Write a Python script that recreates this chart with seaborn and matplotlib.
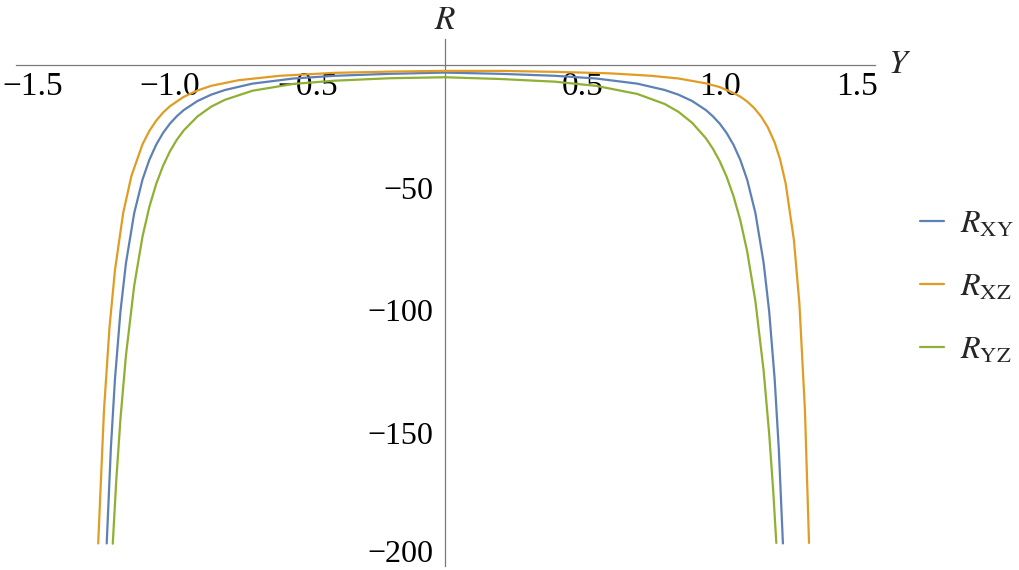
import matplotlib
matplotlib.use("Agg")
import matplotlib.pyplot as plt
import matplotlib.transforms as mtransforms
import pandas as pd
import seaborn as sns
from matplotlib.ticker import FixedLocator, MultipleLocator

# ------------------------------------------------------------
# Data
# ------------------------------------------------------------
y_xy = [-1.230, -1.215, -1.200, -1.180, -1.160, -1.130, -1.100, -1.075, -1.050, -1.025,
        -1.000, -0.975, -0.950, -0.900, -0.850, -0.800, -0.700, -0.550, -0.400, -0.200,
        0.000, 0.200, 0.400, 0.550, 0.700, 0.800, 0.850, 0.900, 0.950, 0.975,
        1.000, 1.025, 1.050, 1.075, 1.100, 1.130, 1.160, 1.180, 1.200, 1.215, 1.230]
r_xy = [-195.1, -156.5, -128.1, -100.5, -80.8, -60.4, -46.8, -38.7, -32.5, -27.7,
        -23.9, -20.9, -18.4, -14.7, -12.1, -10.2, -7.6, -5.5, -4.4, -3.6,
        -3.1, -3.6, -4.4, -5.5, -7.6, -10.2, -12.1, -14.7, -18.4, -20.9,
        -23.9, -27.7, -32.5, -38.7, -46.8, -60.4, -80.8, -100.5, -128.1, -156.5, -195.1]

y_xz = [-1.261, -1.240, -1.220, -1.200, -1.170, -1.140, -1.100, -1.075, -1.050, -1.025,
        -1.000, -0.950, -0.900, -0.850, -0.750, -0.600, -0.400, -0.200, 0.000, 0.200,
        0.400, 0.600, 0.750, 0.850, 0.950, 1.000, 1.050, 1.075, 1.100, 1.125,
        1.150, 1.175, 1.200, 1.220, 1.240, 1.270, 1.290, 1.310, 1.325]
r_xz = [-195.1, -141.0, -107.2, -83.7, -60.3, -45.2, -32.4, -26.9, -22.7, -19.4,
        -16.8, -13.0, -10.4, -8.5, -6.2, -4.4, -3.2, -2.7, -2.4, -2.4,
        -2.8, -3.4, -4.4, -5.5, -7.5, -9.0, -11.4, -12.9, -14.9, -17.5,
        -20.9, -25.4, -31.6, -38.6, -48.3, -71.4, -97.3, -140.5, -194.9]

y_yz = [-1.208, -1.195, -1.180, -1.160, -1.130, -1.100, -1.075, -1.050, -1.025, -1.000,
        -0.975, -0.950, -0.900, -0.850, -0.800, -0.700, -0.550, -0.400, -0.200, 0.000,
        0.200, 0.400, 0.550, 0.700, 0.800, 0.850, 0.900, 0.950, 0.975, 1.000,
        1.025, 1.050, 1.075, 1.100, 1.130, 1.160, 1.180, 1.195, 1.206]
r_yz = [-195.2, -169.0, -144.3, -118.4, -90.0, -70.1, -57.9, -48.5, -41.1, -35.2,
        -30.5, -26.7, -21.0, -17.0, -14.2, -10.5, -7.7, -6.4, -5.4, -5.0,
        -5.7, -6.8, -8.5, -11.8, -15.9, -19.1, -23.6, -29.9, -34.1, -39.2,
        -45.5, -53.4, -63.3, -76.0, -96.4, -124.8, -150.4, -174.2, -194.9]

series_names = [r"$R_{\mathrm{XY}}$", r"$R_{\mathrm{XZ}}$", r"$R_{\mathrm{YZ}}$"]
colors = ["#5E81B5", "#E19C24", "#8FB032"]

x_major = [-1.5, -1.0, -0.5, 0.5, 1.0, 1.5]
y_major = [-200, -150, -100, -50]

df = pd.concat([
    pd.DataFrame({"Y": y_xy, "R": r_xy, "series": series_names[0]}),
    pd.DataFrame({"Y": y_xz, "R": r_xz, "series": series_names[1]}),
    pd.DataFrame({"Y": y_yz, "R": r_yz, "series": series_names[2]}),
], ignore_index=True)

# ------------------------------------------------------------
# Style
# ------------------------------------------------------------
sns.set_style("white")
plt.rcParams["font.family"] = ["Liberation Serif", "DejaVu Serif"]
plt.rcParams["mathtext.fontset"] = "stix"

AXIS_GRAY = "#7a7a7a"

fig = plt.figure(figsize=(10.2, 5.7), dpi=100)
ax = fig.add_axes([16 / 1020, 1 - 566 / 570, (875 - 16) / 1020, (566 - 39) / 570])

sns.lineplot(data=df, x="Y", y="R", hue="series", hue_order=series_names,
             palette=dict(zip(series_names, colors)), estimator=None, sort=True,
             lw=1.6, ax=ax, legend=True)

ax.set_xlim(-1.56, 1.565)
ax.set_ylim(-204.3, 10.6)

# axes through the origin
for side in ["top", "right"]:
    ax.spines[side].set_visible(False)
ax.spines["left"].set_position(("data", 0))
ax.spines["bottom"].set_position(("data", 0))
for side in ["left", "bottom"]:
    ax.spines[side].set_color(AXIS_GRAY)
    ax.spines[side].set_linewidth(0.9)
    ax.spines[side].set_zorder(0)

ax.xaxis.set_major_locator(FixedLocator(x_major))
ax.xaxis.set_minor_locator(MultipleLocator(0.1))
ax.yaxis.set_major_locator(FixedLocator(y_major))
ax.yaxis.set_minor_locator(MultipleLocator(10))
ax.set_xticklabels([f"{v:.1f}".replace("-", "\u2212") for v in x_major])
ax.set_yticklabels([str(v).replace("-", "\u2212") for v in y_major])

ax.tick_params(axis="both", which="major", direction="in", length=6, width=0.8,
               color=AXIS_GRAY, labelsize=24, labelcolor="black")
ax.tick_params(axis="both", which="minor", direction="in", length=3.5, width=0.7,
               color=AXIS_GRAY)
ax.tick_params(axis="x", which="major", pad=5)
ax.tick_params(axis="y", which="major", pad=8, labelsize=23)
ax.set_xlabel("")
ax.set_ylabel("")

# lift the bottom label a touch so it stays inside the canvas
lift = mtransforms.ScaledTranslation(0, 3 / 72, fig.dpi_scale_trans)
bottom_label = ax.get_yticklabels()[0]
bottom_label.set_transform(bottom_label.get_transform() + lift)

ax.annotate(r"$R$", xy=(0, 1), xycoords=("data", "axes fraction"),
            xytext=(0, 2), textcoords="offset points", ha="center", va="bottom",
            fontsize=24)
ax.annotate(r"$Y$", xy=(1, 0), xycoords=("axes fraction", "data"),
            xytext=(9, 0), textcoords="offset points", ha="left", va="center",
            fontsize=24)

handles, labels = ax.get_legend_handles_labels()
ax.legend_.remove()
fig.legend(handles, labels, loc="center left", bbox_to_anchor=(0.886, 0.495),
           frameon=False, fontsize=23, handlelength=0.75, handletextpad=0.5,
           labelspacing=1.05, borderpad=0)

fig.savefig("out.png", dpi=100)
